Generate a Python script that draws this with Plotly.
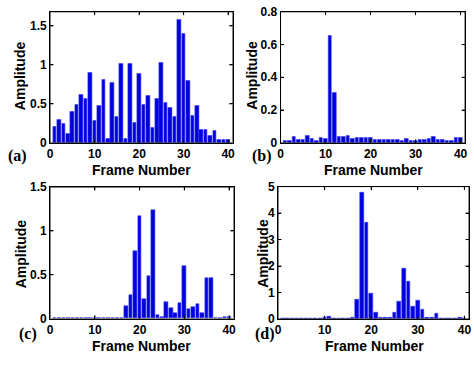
import plotly.graph_objects as go

W, H = 474, 378

frames = list(range(1, 41))

amp_a = [0.21, 0.30, 0.24, 0.11, 0.40, 0.49, 0.62, 0.56, 0.90, 0.28,
         0.48, 0.81, 0.05, 0.77, 0.33, 1.01, 0.05, 1.01, 0.26, 0.88,
         0.49, 0.60, 0.19, 0.56, 1.02, 0.51, 0.45, 0.33, 1.58, 1.40,
         0.79, 0.35, 0.48, 0.17, 0.17, 0.09, 0.15, 0.04, 0.04, 0.04]

amp_b = [0.012, 0.015, 0.035, 0.020, 0.018, 0.040, 0.025, 0.015, 0.028, 0.022,
         0.655, 0.304, 0.038, 0.035, 0.045, 0.025, 0.028, 0.028, 0.028, 0.028,
         0.020, 0.020, 0.018, 0.016, 0.016, 0.016, 0.012, 0.025, 0.014, 0.012,
         0.018, 0.020, 0.022, 0.035, 0.018, 0.020, 0.012, 0.012, 0.028, 0.028]

amp_c = [0.003, 0.003, 0.003, 0.003, 0.003, 0.003, 0.003, 0.003, 0.003, 0.003,
         0.003, 0.003, 0.003, 0.003, 0.003, 0.003, 0.14, 0.27, 0.77, 1.17,
         0.22, 0.49, 1.24, 0.04, 0.015, 0.19, 0.12, 0.06, 0.18, 0.60,
         0.11, 0.13, 0.165, 0.065, 0.46, 0.46, 0.005, 0.01, 0.02, 0.02]

amp_d = [0.02, 0.02, 0.02, 0.02, 0.02, 0.02, 0.02, 0.02, 0.03, 0.04,
         0.08, 0.02, 0.03, 0.03, 0.03, 0.04, 0.75, 4.76, 3.64, 0.97,
         0.24, 0.04, 0.05, 0.06, 0.24, 0.67, 1.90, 1.43, 0.46, 0.69,
         0.36, 0.06, 0.06, 0.20, 0.02, 0.02, 0.02, 0.02, 0.04, 0.02]

x_ticks = [0, 10, 20, 30, 40]
y_ticks_a = [0, 0.5, 1, 1.5]
y_ticks_b = [0, 0.2, 0.4, 0.6, 0.8]
y_ticks_c = [0, 0.5, 1, 1.5]
y_ticks_d = [0, 1, 2, 3, 4, 5]
y_labels_a = ["0", "0.5", "1", "1.5"]
y_labels_b = ["0", "0.2", "0.4", "0.6", "0.8"]
y_labels_c = ["0", "0.5", "1", "1.5"]
y_labels_d = ["0", "1", "2", "3", "4", "5"]
panel_labels = ["(a)", "(b)", "(c)", "(d)"]
x_title = "Frame Number"
y_title = "Amplitude"

# pixel boxes: left, right, top, bottom
boxes = [(47.7, 232, 5, 141), (280.5, 467, 5, 141),
         (47.7, 233, 187, 323.5), (278, 471, 186.5, 324)]
xrange_ = [0, 41]
yranges = [[0, 1.68], [0, 0.8], [0, 1.5], [0, 5]]
series = [amp_a, amp_b, amp_c, amp_d]
yticks = [(y_ticks_a, y_labels_a), (y_ticks_b, y_labels_b),
          (y_ticks_c, y_labels_c), (y_ticks_d, y_labels_d)]

fig = go.Figure()
tickfont = dict(family="Liberation Sans, Arial, sans-serif", size=12, color="black", weight="bold")
titlefont = dict(family="Liberation Sans, Arial, sans-serif", size=14, color="black", weight="bold")
FRAME = "#1a1a1a"

for i in range(4):
    n = "" if i == 0 else str(i + 1)
    fig.add_trace(go.Bar(x=frames, y=series[i], width=0.8,
                         marker=dict(color="#0000d8", line=dict(color="#3a3aff", width=0.6)),
                         xaxis="x" + n, yaxis="y" + n, showlegend=False, hoverinfo="skip"))
    l, r, t, b = boxes[i]
    y0r, y1r = yranges[i]
    # axes box and inside ticks, derived from the axis ranges and tick values
    wpx, hpx = r - l, b - t
    tlx = 3.5 * (y1r - y0r) / hpx
    tly = 3.5 * (xrange_[1] - xrange_[0]) / wpx
    fx = [xrange_[0], xrange_[1], xrange_[1], xrange_[0], xrange_[0], None]
    fy = [y0r, y0r, y1r, y1r, y0r, None]
    for tv in x_ticks[1:]:
        fx += [tv, tv, None, tv, tv, None]
        fy += [y0r, y0r + tlx, None, y1r, y1r - tlx, None]
    for tv in yticks[i][0][1:]:
        if tv >= y1r:
            continue
        fx += [xrange_[0], xrange_[0] + tly, None, xrange_[1], xrange_[1] - tly, None]
        fy += [tv, tv, None, tv, tv, None]
    fig.add_trace(go.Scatter(x=fx, y=fy, mode="lines", line=dict(color=FRAME, width=1),
                             xaxis="x" + n, yaxis="y" + n, showlegend=False,
                             hoverinfo="skip", cliponaxis=False))
    axis_common = dict(showline=True, linecolor="black", linewidth=1, mirror="ticks",
                       ticks="inside", ticklen=3, tickcolor="black", tickwidth=1,
                       showgrid=False, zeroline=False, tickfont=tickfont)
    fig.update_layout(**{
        "xaxis" + n: dict(domain=[l / W, r / W], range=xrange_, tickvals=x_ticks,
                          anchor="y" + n, **axis_common),
        "yaxis" + n: dict(domain=[1 - b / H, 1 - t / H], range=yranges[i],
                          tickvals=yticks[i][0], ticktext=yticks[i][1],
                          anchor="x" + n, **axis_common),
    })

ann = []
def px(x, y, text, font, angle=0):
    ann.append(dict(x=x / W, y=1 - y / H, xref="paper", yref="paper", text=text,
                    showarrow=False, font=font, textangle=angle,
                    xanchor="center", yanchor="middle"))

xt_pos = [(140, 169), (374, 169), (140, 352), (375, 352)]
yt_pos = [(18, 71), (252, 71), (18, 256), (262, 256)]
pl_pos = [(15, 155), (262, 155), (25, 340), (265, 340)]
labfont = dict(family="Liberation Serif, Times New Roman, serif", size=16, color="black", weight="bold")
for i in range(4):
    px(*xt_pos[i], x_title, titlefont)
    px(*yt_pos[i], y_title, titlefont, -90)
    px(*pl_pos[i], panel_labels[i], labfont)

fig.update_layout(width=W, height=H, margin=dict(l=0, r=0, t=0, b=0),
                  plot_bgcolor="white", paper_bgcolor="white", annotations=ann,
                  bargap=0)
fig.write_html("out.html", config={"displayModeBar": False},
               post_script="document.body.style.margin='0';")
